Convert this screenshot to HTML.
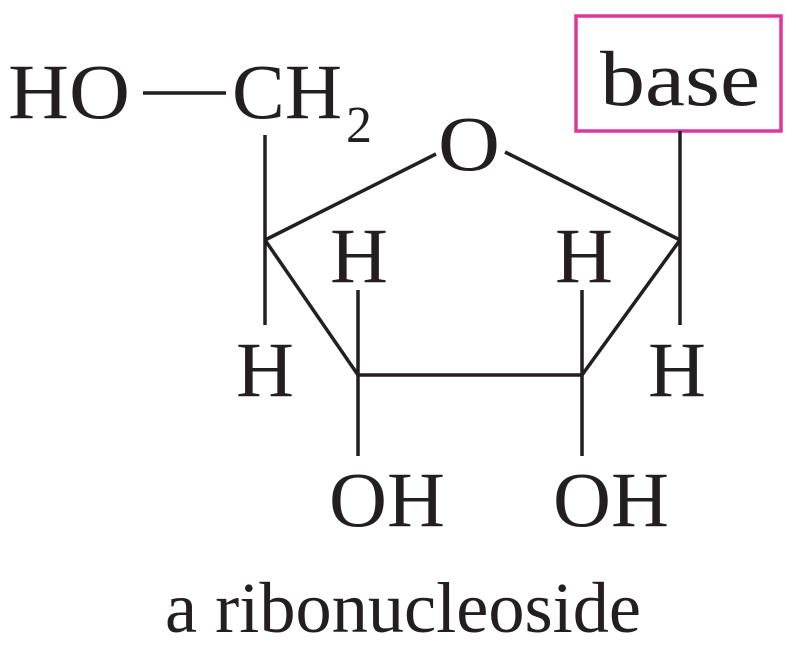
<!DOCTYPE html>
<html><head><meta charset="utf-8"><style>html,body{margin:0;padding:0;background:#fff}svg{display:block}</style></head>
<body>
<svg width="796" height="652" viewBox="0 0 796 652" xmlns="http://www.w3.org/2000/svg">
<g font-family="Liberation Serif, serif" fill="#231f20" font-size="78">
<text x="8" y="118" textLength="122" lengthAdjust="spacingAndGlyphs">HO</text>
<text x="232" y="118" textLength="110" lengthAdjust="spacingAndGlyphs">CH</text>
<text x="346" y="142" font-size="52">2</text>
<text x="438" y="170" textLength="62" lengthAdjust="spacingAndGlyphs">O</text>
<text x="600" y="105" textLength="160" lengthAdjust="spacingAndGlyphs">base</text>
<text x="330" y="282" textLength="58" lengthAdjust="spacingAndGlyphs">H</text>
<text x="555" y="282" textLength="58" lengthAdjust="spacingAndGlyphs">H</text>
<text x="236" y="396" textLength="58" lengthAdjust="spacingAndGlyphs">H</text>
<text x="648" y="396" textLength="58" lengthAdjust="spacingAndGlyphs">H</text>
<text x="329" y="526" textLength="116" lengthAdjust="spacingAndGlyphs">OH</text>
<text x="553" y="526" textLength="116" lengthAdjust="spacingAndGlyphs">OH</text>
<text x="165" y="632" font-size="72" textLength="476" lengthAdjust="spacingAndGlyphs">a ribonucleoside</text>
</g>
<rect x="576" y="16" width="205" height="115" fill="none" stroke="#e0359c" stroke-width="3.5"/>
<g stroke="#231f20" stroke-width="3.5" fill="none" stroke-linecap="butt">
<line x1="143" y1="93" x2="226" y2="93"/>
<line x1="265" y1="135" x2="265" y2="325"/>
<line x1="436" y1="154" x2="265" y2="240"/>
<line x1="265" y1="240" x2="358" y2="375"/>
<line x1="358" y1="290" x2="358" y2="456"/>
<line x1="358" y1="375" x2="582" y2="375"/>
<line x1="582" y1="290" x2="582" y2="456"/>
<line x1="582" y1="375" x2="680" y2="240"/>
<line x1="680" y1="240" x2="505" y2="152"/>
<line x1="680" y1="131" x2="680" y2="325"/>
</g>
</svg>
</body></html>
